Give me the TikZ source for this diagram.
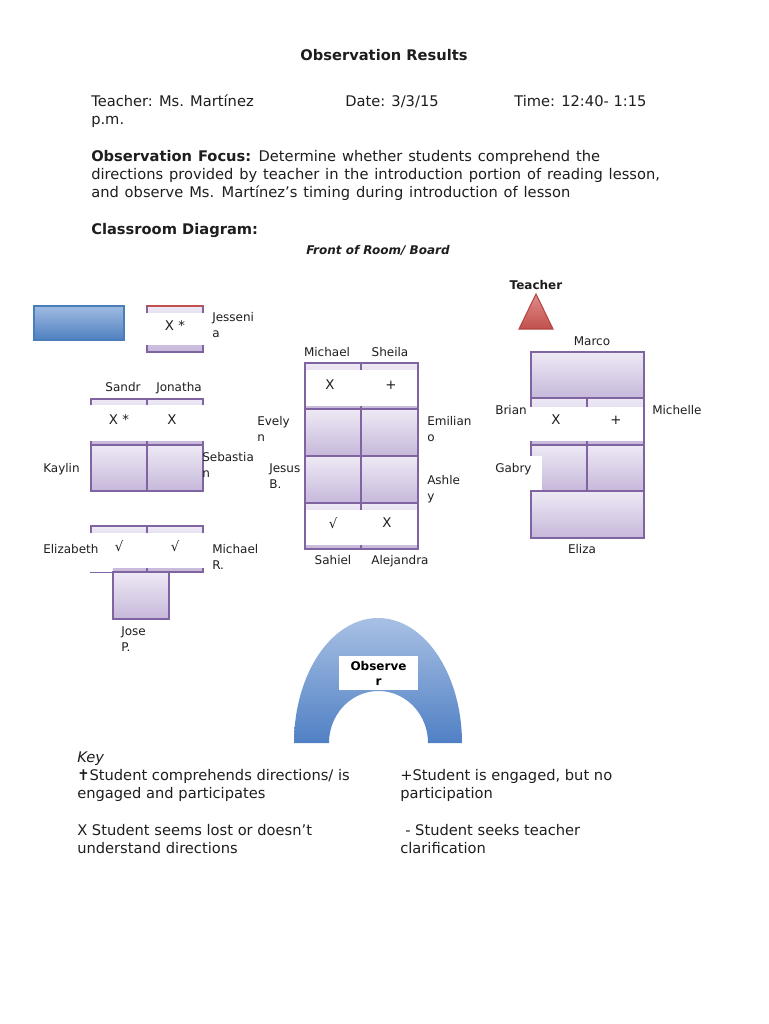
\documentclass[tikz,border=0pt]{standalone}
\usepackage{fontspec}
\setmainfont{DejaVu Sans}
\definecolor{desktop}{RGB}{238,233,245}
\definecolor{deskbot}{RGB}{198,184,218}
\definecolor{deskline}{RGB}{128,100,162}
\definecolor{boardtop}{RGB}{160,187,226}
\definecolor{boardbot}{RGB}{79,128,192}
\definecolor{boardline}{RGB}{74,126,187}
\definecolor{tritop}{RGB}{226,140,138}
\definecolor{tribot}{RGB}{192,80,77}
\definecolor{triline}{RGB}{180,72,70}
\definecolor{archtop}{RGB}{168,192,228}
\definecolor{archbot}{RGB}{80,128,196}
\definecolor{txt}{RGB}{30,30,30}
\newcommand\widesp{\spaceskip=4.4pt plus 1pt minus 1pt\relax}
\begin{document}
\begin{tikzpicture}[x=0.75pt,y=-0.75pt,
  bodytxt/.style={anchor=base west,inner sep=0pt,text=txt,font=\fontsize{11}{13.5}\selectfont},
  nametxt/.style={anchor=base west,inner sep=0pt,align=left,text=txt,font=\fontsize{9}{12}\selectfont},
  cnametxt/.style={anchor=base,inner sep=0pt,text=txt,font=\fontsize{9}{12}\selectfont},
  marktxt/.style={inner sep=0pt,text=txt,font=\fontsize{10}{12}\selectfont},
  deskbox/.style={draw=deskline,line width=0.9pt,top color=desktop,bottom color=deskbot},
  boardbox/.style={draw=boardline,line width=0.9pt,top color=boardtop,bottom color=boardbot},
  tribox/.style={draw=triline,line width=0.8pt,top color=tritop,bottom color=tribot},
  archbox/.style={top color=archtop,bottom color=archbot},
  blankbox/.style={fill=white}
]
\useasboundingbox (0,0) rectangle (768,1024);
\fill[white] (0,0) rectangle (768,1024);

% header
\node[bodytxt,anchor=base,font=\bfseries\fontsize{11}{13.5}\selectfont] (title) at (384,61) {Observation Results};
\node[bodytxt] (teacher) at (91,106) {Teacher: Ms. Martínez};
\node[bodytxt] (date) at (345,106) {Date: 3/3/15};
\node[bodytxt] (time) at (514,106) {Time: 12:40- 1:15};
\node[bodytxt] (pm) at (91,124) {p.m.};
\node[bodytxt] (focus1) at (91,161) {\widesp\textbf{Observation Focus:} Determine whether students comprehend the};
\node[bodytxt] (focus2) at (91,179) {\widesp directions provided by teacher in the introduction portion of reading lesson,};
\node[bodytxt] (focus3) at (91,197) {\widesp and observe Ms. Martínez’s timing during introduction of lesson};
\node[bodytxt,font=\bfseries\fontsize{11}{13.5}\selectfont] (diag) at (91,234) {Classroom Diagram:};
\node[anchor=base,inner sep=0pt,text=txt,font=\bfseries\itshape\fontsize{9}{10}\selectfont] (front) at (378,254) {Front of Room/ Board};

% board
\path[boardbox] (34,306) rectangle (124,340);

% Jessenia desk
\path[deskbox] (147,306) rectangle (203,352);
\draw[tribot,line width=1pt] (147,306) -- (203,306);
\path[blankbox] (146,313) rectangle (204,345);
\node[marktxt] (mJes) at (175,326) {X *};
\node[nametxt] (nJes) at (212,337) {Jesseni\\a};

% Sandra / Jonathan group
\path[deskbox] (91,399) rectangle (147,445);
\path[deskbox] (147,399) rectangle (203,445);
\path[deskbox] (91,445) rectangle (147,491);
\path[deskbox] (147,445) rectangle (203,491);
\path[blankbox] (90,405) rectangle (204,441);
\node[marktxt] (mSan) at (119,420) {X *};
\node[marktxt] (mJon) at (172,420) {X};
\node[cnametxt] (nSan) at (123,391) {Sandr};
\node[cnametxt] (nJon) at (179,391) {Jonatha};
\node[nametxt] (nKay) at (43,472) {Kaylin};
\node[nametxt] (nSeb) at (202,477) {Sebastia\\n};

% Elizabeth / Michael R. group
\path[deskbox] (91,526) rectangle (147,572);
\path[deskbox] (147,526) rectangle (203,572);
\path[blankbox] (90,533) rectangle (204,568);
\path[blankbox] (90,568) rectangle (113,571.5);
\path[deskbox] (113,572) rectangle (169,619);
\node[marktxt] (mEli) at (119,546) {√};
\node[marktxt] (mMiR) at (175,546) {√};
\node[nametxt] (nEli) at (43,553) {Elizabeth};
\node[nametxt] (nMiR) at (212,569) {Michael\\R.};
\node[nametxt] (nJos) at (121,651) {Jose\\P.};

% centre group
\path[deskbox] (305,363) rectangle (361,409);
\path[deskbox] (361,363) rectangle (418,409);
\path[deskbox] (305,409) rectangle (361,456);
\path[deskbox] (361,409) rectangle (418,456);
\path[deskbox] (305,456) rectangle (361,503);
\path[deskbox] (361,456) rectangle (418,503);
\path[deskbox] (305,503) rectangle (361,549);
\path[deskbox] (361,503) rectangle (418,549);
\path[blankbox] (306,370) rectangle (417,406);
\path[blankbox] (306,510) rectangle (417,545);
\draw[deskline,line width=0.9pt] (305,363) rectangle (418,549);
\node[marktxt] (mMic) at (330,385) {X};
\node[marktxt] (mShe) at (391,385) {+};
\node[marktxt] (mSah) at (333,523) {√};
\node[marktxt] (mAle) at (387,523) {X};
\node[cnametxt] (nMic) at (327,356) {Michael};
\node[cnametxt] (nShe) at (390,356) {Sheila};
\node[nametxt] (nEve) at (257,441) {Evely\\n};
\node[nametxt] (nEmi) at (427,441) {Emilian\\o};
\node[nametxt] (nJes2) at (269,488) {Jesus\\B.};
\node[nametxt] (nAsh) at (427,500) {Ashle\\y};
\node[cnametxt] (nSah) at (333,564) {Sahiel};
\node[cnametxt] (nAle) at (400,564) {Alejandra};

% teacher
\path[tribox] (536,294) -- (553,329) -- (519,329) -- cycle;
\node[cnametxt,font=\bfseries\fontsize{9}{12}\selectfont] (nTea) at (536,289) {Teacher};

% right group
\path[deskbox] (531,352) rectangle (644,398);
\path[deskbox] (531,398) rectangle (587,445);
\path[deskbox] (587,398) rectangle (644,445);
\path[deskbox] (531,445) rectangle (587,491);
\path[deskbox] (587,445) rectangle (644,491);
\path[deskbox] (531,491) rectangle (644,538);
\path[blankbox] (530,407) rectangle (643,441);
\path[blankbox] (490,456) rectangle (542,490);
\node[marktxt] (mBri) at (556,420) {X};
\node[marktxt] (mMie) at (616,420) {+};
\node[cnametxt] (nMar) at (592,345) {Marco};
\node[nametxt] (nBri) at (495,414) {Brian};
\node[nametxt] (nMie) at (652,414) {Michelle};
\node[nametxt] (nGab) at (495,472) {Gabry};
\node[cnametxt] (nEliz) at (582,553) {Eliza};

% observer arch
\path[archbox] plot[domain=180:360,samples=90] ({378+84*cos(\x)},{743+125*sin(\x)})
  -- plot[domain=360:180,samples=90] ({378.5+49.5*cos(\x)},{743+52*sin(\x)}) -- cycle;
\node[fill=white,inner sep=0pt,minimum width=59pt,minimum height=25.5pt,align=center,
  text=black,font=\bfseries\fontsize{9}{11.3}\selectfont] (obs) at (378.5,673) {Observe\\r};

% key
\node[bodytxt,font=\itshape\fontsize{11}{13.5}\selectfont] (key) at (77,762) {Key};
\node[bodytxt] (k1a) at (77,780) {✝Student comprehends directions/ is};
\node[bodytxt] (k1b) at (77,798) {engaged and participates};
\node[bodytxt] (k2a) at (77,835) {X Student seems lost or doesn’t};
\node[bodytxt] (k2b) at (77,853) {understand directions};
\node[bodytxt] (k3a) at (400,780) {+Student is engaged, but no};
\node[bodytxt] (k3b) at (400,798) {participation};
\node[bodytxt] (k4a) at (405,835) {- Student seeks teacher};
\node[bodytxt] (k4b) at (400,853) {clarification};
\end{tikzpicture}
\end{document}
